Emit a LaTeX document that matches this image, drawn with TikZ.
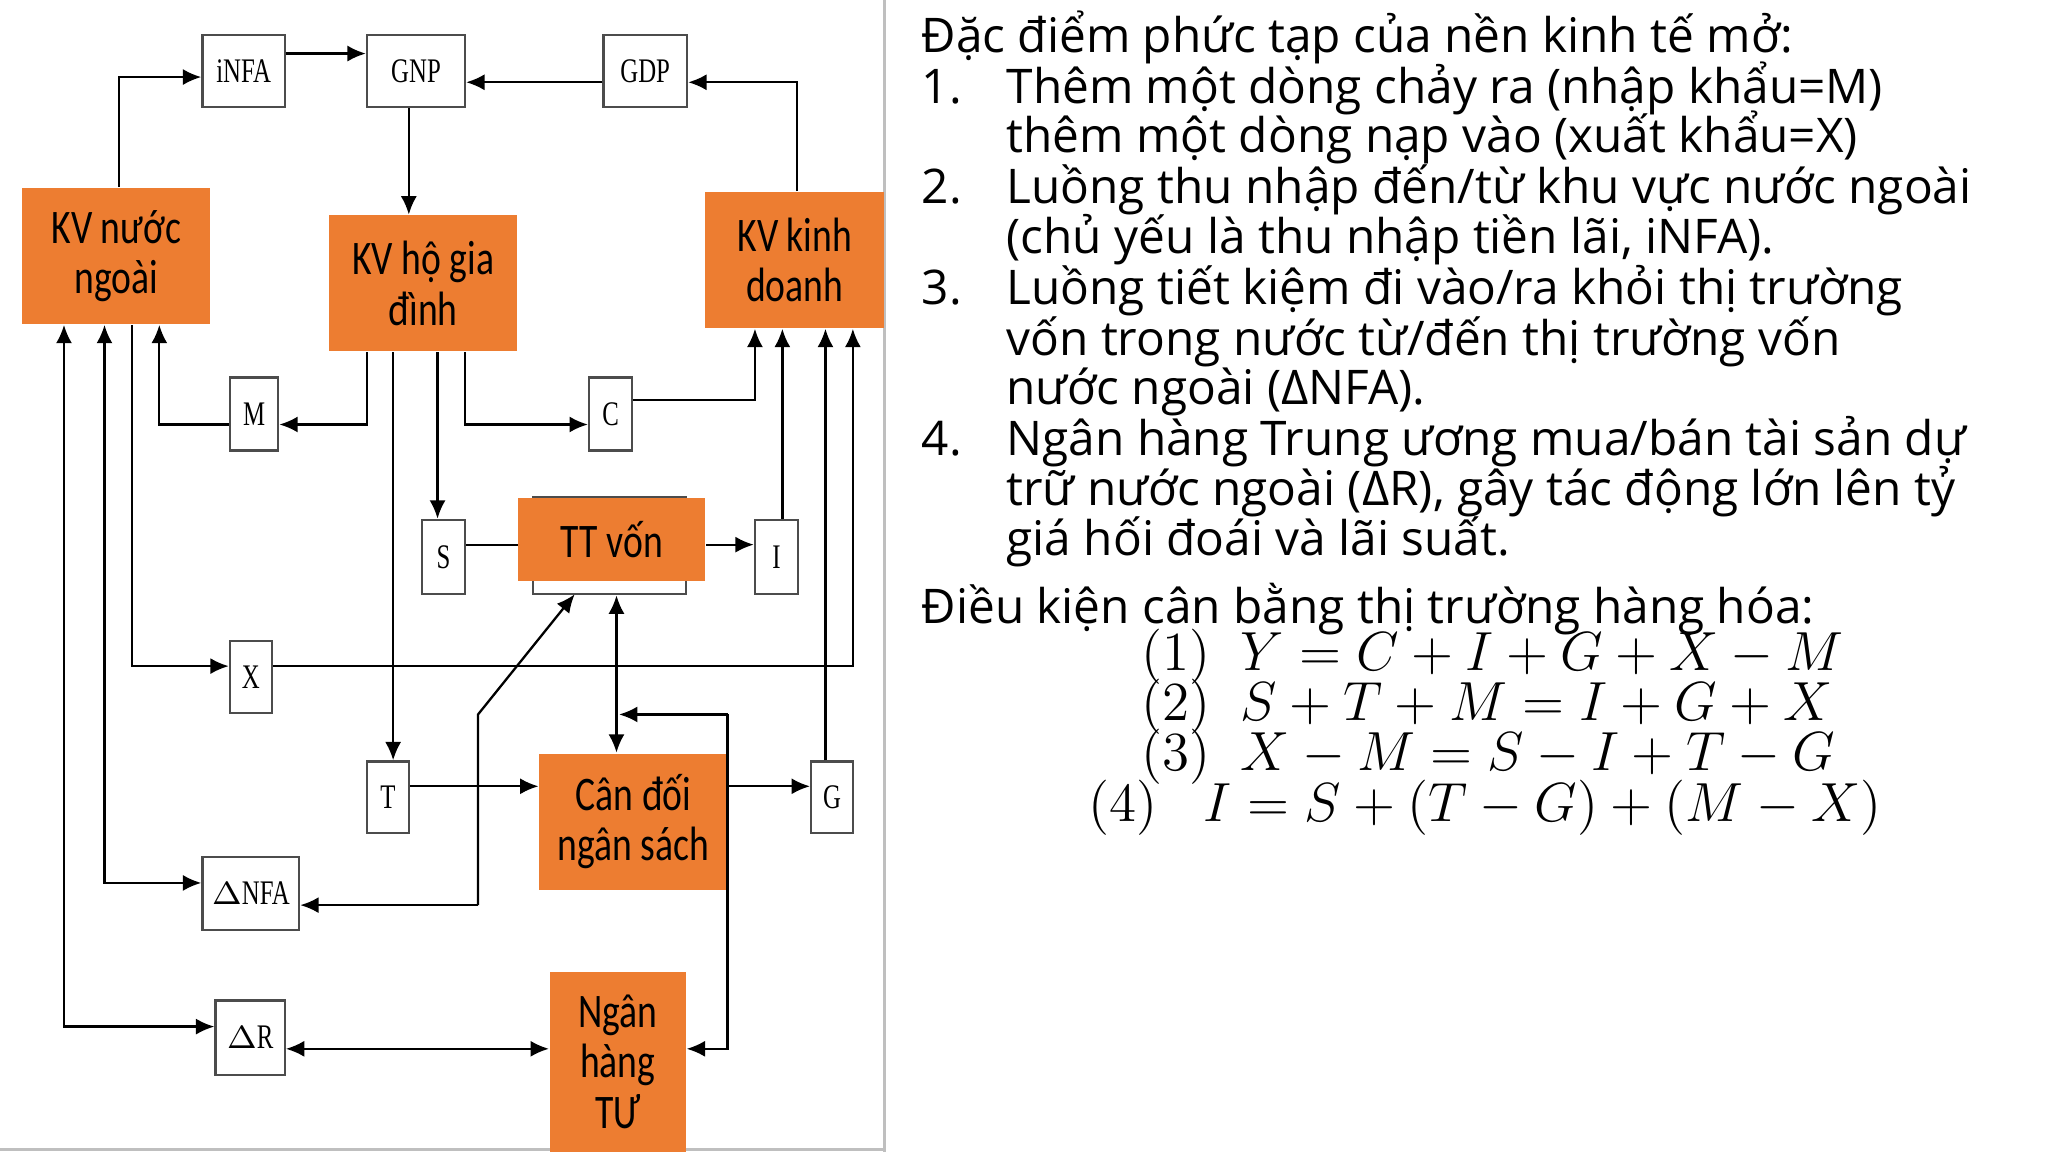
\documentclass[tikz,border=0pt]{standalone}
\usepackage{fontspec}
\setmainfont{Open Sans}
\newfontfamily\tms[FakeStretch=0.72]{Liberation Serif}
\newfontfamily\cond[FakeStretch=0.78]{Carlito}
\usetikzlibrary{arrows.meta}
\definecolor{org}{HTML}{ED7D31}
\begin{document}
\begin{tikzpicture}[x=0.01cm,y=-0.01cm,
  ob/.style={fill=org,inner sep=0pt,align=center,font=\cond\fontsize{10.5}{11}\selectfont},
  sb/.style={draw=black!70,line width=0.5pt,fill=white,inner sep=0pt,font=\tms\fontsize{7.5}{9}\selectfont},
  arr/.style={-{Latex[length=4pt,width=3.5pt]},line width=0.5pt},
  ln/.style={line width=0.5pt},
  bi/.style={{Latex[length=4pt,width=3.5pt]}-{Latex[length=4pt,width=3.5pt]},line width=0.5pt},
  rt/.style={anchor=base west,inner sep=0pt,font=\fontsize{10.4}{12}\selectfont},
  eq/.style={anchor=base west,inner sep=0pt,font=\fontsize{11.7}{13}\selectfont}]
\useasboundingbox[fill=white] (0,0) rectangle (1568,882);
\draw[black!25,line width=0.6pt] (677,0) -- (677,882);
\draw[black!25,line width=0.6pt] (0,880) -- (677,880);
% small boxes
\node[sb,minimum width=0.63cm,minimum height=0.55cm] (iNFA) at (186.5,54.5) {iNFA};
\node[sb,minimum width=0.75cm,minimum height=0.55cm] (GNP) at (318.5,54.5) {GNP};
\node[sb,minimum width=0.64cm,minimum height=0.55cm] (GDP) at (494,54.5) {GDP};
\node[sb,minimum width=0.37cm,minimum height=0.56cm] (M) at (194.5,317) {M};
\node[sb,minimum width=0.33cm,minimum height=0.56cm] (C) at (467.5,317) {C};
\node[sb,minimum width=0.33cm,minimum height=0.57cm] (S) at (339.5,426.5) {S};
\node[sb,minimum width=0.33cm,minimum height=0.57cm] (I) at (594.5,426.5) {I};
\node[sb,minimum width=0.32cm,minimum height=0.55cm] (X) at (192,518.5) {X};
\node[sb,minimum width=0.32cm,minimum height=0.55cm] (T) at (297,610.5) {T};
\node[sb,minimum width=0.32cm,minimum height=0.55cm] (G) at (637,610.5) {G};
\node[sb,minimum width=0.74cm,minimum height=0.56cm] (NFA) at (192,684) {$\Delta$NFA};
\node[sb,minimum width=0.53cm,minimum height=0.57cm] (R) at (191.5,794.5) {$\Delta$R};
\node[sb,minimum width=1.17cm,minimum height=0.74cm] (TTb) at (466.5,418) {};
% orange boxes
\node[ob,minimum width=1.44cm,minimum height=1.04cm] (KVnn) at (89,196) {KV nước\\ngoài};
\node[ob,minimum width=1.44cm,minimum height=1.04cm] (KVhgd) at (324,217) {KV hộ gia\\đình};
\node[ob,minimum width=1.37cm,minimum height=1.04cm] (KVkd) at (608.5,199) {KV kinh\\doanh};
\node[ob,minimum width=1.43cm,minimum height=0.64cm] (TT) at (468.5,413) {TT vốn};
\node[ob,minimum width=1.44cm,minimum height=1.04cm] (CD) at (485,629) {Cân đối\\ngân sách};
\node[ob,minimum width=1.04cm,minimum height=1.38cm] (NH) at (473,813) {Ngân\\hàng\\TƯ};
% coordinates
\coordinate (c91) at (91,59);
\coordinate (c610) at (610,63);
\coordinate (c281) at (281,325);
\coordinate (c356) at (356,325);
\coordinate (c122) at (122,0);
\coordinate (c578) at (578,306);
\coordinate (c335) at (335,0);
\coordinate (c301) at (301,0);
\coordinate (c599) at (599,0);
\coordinate (c49) at (49,786);
\coordinate (c80) at (80,676);
\coordinate (c101) at (101,510);
\coordinate (c653) at (653,510);
\coordinate (c632) at (632,0);
\coordinate (c472) at (472,0);
\coordinate (d1) at (366,693);
\coordinate (d2) at (366,547);
\coordinate (d3) at (440,455);
\coordinate (e1) at (557,547);
\coordinate (e2) at (474,547);
\coordinate (e3) at (557,803);
% connectors
\draw[arr] (KVnn.north -| c91) |- (iNFA.west |- c91);
\draw[arr] (iNFA.east |- 0,41) -- (GNP.west |- 0,41);
\draw[arr] (GDP.west |- 0,63) -- (GNP.east |- 0,63);
\draw[arr] (KVkd.north -| c610) |- (GDP.east |- c610);
\draw[arr] (GNP.south -| 313,0) -- (KVhgd.north -| 313,0);
\draw[arr] (KVhgd.south -| c281) |- (M.east |- c281);
\draw[arr] (M.west |- c281) -| (KVnn.south -| c122);
\draw[arr] (KVhgd.south -| c356) |- (C.west |- c356);
\draw[arr] (C.east |- c578) -| (KVkd.south -| c578);
\draw[arr] (KVhgd.south -| c335) -- (S.north -| c335);
\draw[arr] (KVhgd.south -| c301) -- (T.north -| c301);
\draw[ln] (S.east |- 0,417) -- (TT.west |- 0,417);
\draw[arr] (TT.east |- 0,417) -- (I.west |- 0,417);
\draw[arr] (I.north -| c599) -- (KVkd.south -| c599);
\draw[bi] (KVnn.south -| c49) |- (R.west |- c49);
\draw[bi] (KVnn.south -| c80) |- (NFA.west |- c80);
\draw[arr] (KVnn.south -| c101) |- (X.west |- c101);
\draw[arr] (X.east |- c653) -| (KVkd.south -| c653);
\draw[arr] (G.north -| c632) -- (KVkd.south -| c632);
\draw[arr] (T.east |- 0,602) -- (CD.west |- 0,602);
\draw[arr] (CD.east |- 0,602) -- (G.west |- 0,602);
\draw[bi] (CD.north -| c472) -- (TTb.south -| c472);
\draw[arr] (d1) -- (NFA.east |- d1);
\draw[arr] (d1) -- (d2) -- (d3);
\draw[arr] (e1) -- (e2);
\draw[arr] (e1) -- (e3) -- (NH.east |- e3);
\draw[bi] (R.east |- 0,803) -- (NH.west |- 0,803);
% right text
\node[rt] (t0) at (705,40) {Đặc điểm phức tạp của nền kinh tế mở:};
\node[rt] (n1) at (705,79) {1.};
\node[rt] (t1) at (770,79) {Thêm một dòng chảy ra (nhập khẩu=M)};
\node[rt] (t1b) at (770,117) {thêm một dòng nạp vào (xuất khẩu=X)};
\node[rt] (n2) at (705,156) {2.};
\node[rt] (t2) at (770,156) {Luồng thu nhập đến/từ khu vực nước ngoài};
\node[rt] (t2b) at (770,194) {(chủ yếu là thu nhập tiền lãi, iNFA).};
\node[rt] (n3) at (705,233) {3.};
\node[rt] (t3) at (770,233) {Luồng tiết kiệm đi vào/ra khỏi thị trường};
\node[rt] (t3b) at (770,272) {vốn trong nước từ/đến thị trường vốn};
\node[rt] (t3c) at (770,310) {nước ngoài (ΔNFA).};
\node[rt] (n4) at (705,349) {4.};
\node[rt] (t4) at (770,349) {Ngân hàng Trung ương mua/bán tài sản dự};
\node[rt] (t4b) at (770,387) {trữ nước ngoài (ΔR), gây tác động lớn lên tỷ};
\node[rt] (t4c) at (770,425) {giá hối đoái và lãi suất.};
\node[rt] (t5) at (705,477) {Điều kiện cân bằng thị trường hàng hóa:};
\node[eq] (e1n) at (873,513) {$(1)\;\;Y=C+I+G+X-M$};
\node[eq] (e2n) at (873,552) {$(2)\;\;S+T+M=I+G+X$};
\node[eq] (e3n) at (873,590) {$(3)\;\;X-M=S-I+T-G$};
\node[eq] (e4n) at (833,629) {$(4)\;\;\;I=S+(T-G)+(M-X)$};
\end{tikzpicture}
\end{document}
